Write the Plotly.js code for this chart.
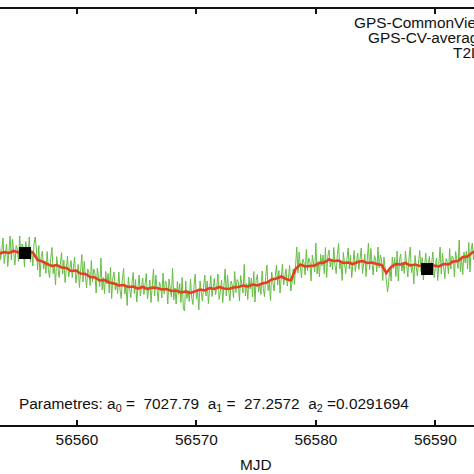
<!DOCTYPE html>
<html>
<head>
<meta charset="utf-8">
<script src="https://cdn.plot.ly/plotly-3.0.1.min.js"></script>
<style>
  html, body { margin: 0; padding: 0; overflow: hidden; background: #fff; }
  #chart { width: 474px; height: 474px; }
</style>
</head>
<body>
<div id="chart"></div>
<script>
// GPS common-view time transfer vs. T2L2, MJD 56553.5 onward
// Raw common-view samples, one every 0.1 day (one row per day)
const cvStartMjd = 56553.5;
const cvStepDays = 0.1;
const cvRaw = [
  18.2, 16.55, 17.4, 18.7, 16.15, 17.0, 18.1, 15.85, 17.8, 18.9,
  16.5, 18.6, 17.15, 16.0, 17.95, 17.6, 16.35, 18.9, 16.8, 18.1,
  17.75, 15.8, 18.35, 17.25, 16.6, 18.8, 16.3, 17.5, 15.9, 18.15,
  18.8, 17.6, 15.5, 17.95, 14.8, 16.85, 17.4, 15.6, 16.35, 15.15,
  17.35, 15.55, 14.7, 16.65, 17.75, 15.15, 15.95, 14.0, 16.85, 15.75,
  14.75, 16.1, 17.25, 15.1, 16.5, 14.25, 16.15, 16.9, 14.8, 15.7,
  16.45, 14.75, 15.55, 16.8, 14.2, 15.0, 16.05, 13.75, 15.7, 17.05,
  14.3, 16.35, 14.85, 13.7, 15.6, 15.2, 13.95, 16.45, 14.3, 15.6,
  15.2, 13.2, 15.7, 14.55, 13.85, 16.7, 13.5, 14.75, 13.1, 15.35,
  14.1, 15.15, 13.2, 15.75, 12.65, 14.7, 15.3, 13.5, 14.25, 13.15,
  15.3, 13.5, 12.65, 14.6, 15.65, 13.1, 13.9, 11.95, 14.8, 13.7,
  12.75, 14.1, 15.25, 13.15, 14.55, 12.3, 14.25, 15.0, 12.9, 13.85,
  14.7, 13.05, 13.85, 15.15, 12.6, 13.4, 14.5, 12.25, 14.2, 15.6,
  12.9, 15.0, 13.55, 12.35, 14.3, 13.95, 12.7, 15.2, 13.1, 14.4,
  14.05, 12.1, 14.6, 13.5, 12.8, 15.65, 12.5, 13.7, 12.1, 14.35,
  13.05, 14.15, 12.25, 14.75, 11.7, 11.4, 14.4, 12.65, 13.45, 12.35,
  14.6, 12.8, 12.05, 14.0, 15.1, 12.6, 13.4, 11.5, 14.4, 13.3,
  12.4, 13.8, 15.0, 12.9, 14.4, 12.15, 14.1, 14.95, 12.85, 13.8,
  14.65, 13.0, 13.8, 15.1, 12.55, 13.35, 14.5, 12.25, 14.2, 15.6,
  12.9, 15.0, 13.55, 12.4, 14.4, 14.0, 12.75, 15.35, 13.25, 14.55,
  14.35, 12.4, 14.95, 13.85, 13.2, 16.05, 12.9, 14.15, 12.55, 14.8,
  13.6, 14.7, 12.8, 15.35, 12.3, 14.45, 15.05, 13.3, 14.15, 13.05,
  15.4, 13.65, 12.85, 14.85, 16.0, 13.45, 14.3, 12.45, 15.3, 14.25,
  13.4, 14.85, 16.0, 14.0, 15.45, 13.2, 15.25, 16.1, 14.0, 14.95,
  15.6, 13.9, 14.65, 15.95, 13.4, 14.2, 15.6, 14.05, 16.3, 17.8,
  15.2, 17.3, 15.85, 14.7, 16.6, 16.25, 15.0, 17.55, 15.4, 16.7,
  16.35, 14.4, 17.0, 15.95, 15.3, 18.2, 15.1, 16.35, 14.8, 17.05,
  15.9, 17.0, 15.15, 17.75, 14.75, 16.85, 17.5, 15.8, 16.6, 15.5,
  17.75, 15.95, 15.15, 17.05, 18.15, 15.6, 16.35, 14.45, 17.25, 16.15,
  15.15, 16.55, 17.7, 15.6, 17.0, 14.75, 16.7, 17.45, 15.35, 16.3,
  17.2, 15.55, 16.4, 17.7, 15.15, 16.0, 17.1, 14.85, 16.8, 18.2,
  15.55, 17.65, 16.2, 15.0, 16.95, 16.6, 15.3, 17.8, 15.7, 17.0,
  16.5, 14.45, 16.8, 15.5, 14.65, 13.3, 14.35, 15.8, 14.4, 16.8,
  15.65, 16.75, 14.85, 17.4, 14.4, 16.5, 17.1, 15.4, 16.25, 15.15,
  17.4, 15.6, 14.8, 16.7, 17.8, 15.25, 16.05, 14.1, 16.95, 15.85,
  14.9, 16.3, 17.45, 15.35, 16.75, 14.5, 16.45, 17.2, 15.1, 16.05,
  16.85, 15.2, 16.0, 17.3, 14.75, 15.55, 16.7, 14.45, 16.4, 17.8,
  15.1, 17.2, 15.8, 14.65, 16.65, 16.3, 15.1, 17.65, 15.6, 16.9,
  16.75, 14.8, 17.35, 16.3, 15.65, 18.5, 15.35, 16.65, 15.05, 17.3,
  16.2, 17.4, 15.6, 18.25, 15.3, 17.5, 18.2, 16.55, 17.4, 16.35
];

// Averaged common-view series, one every 0.4 day
const avgStartMjd = 56553.5;
const avgStepDays = 0.4;
const cvAverage = [
  17.15, 17.3, 17.2, 17.4, 17.25, 17.2, 17.3, 17.25, 16.5, 16.35,
  16.1, 15.9, 16.0, 15.75, 15.7, 15.4, 15.45, 15.15, 15.1, 14.8,
  14.75, 14.45, 14.5, 14.25, 14.15, 13.95, 14.0, 13.8, 13.85, 13.65,
  13.8, 13.6, 13.75, 13.7, 13.55, 13.6, 13.4, 13.45, 13.25, 13.35,
  13.2, 13.35, 13.55, 13.45, 13.7, 13.6, 13.8, 13.65, 13.6, 13.75,
  13.8, 13.95, 13.85, 14.05, 13.95, 14.15, 14.25, 14.55, 14.65, 14.85,
  14.6, 14.45, 15.6, 16.05, 15.85, 15.9, 15.95, 16.2, 16.25, 16.55,
  16.4, 16.45, 16.2, 16.25, 16.1, 16.3, 16.4, 16.2, 16.25, 16.1,
  16.0, 15.2, 15.8, 16.1, 16.05, 16.2, 15.95, 16.05, 15.9, 16.0,
  15.8, 15.95, 15.85, 16.1, 16.05, 16.35, 16.4, 16.8, 16.85, 17.25,
  17.5
];

// T2L2 comparison points
const t2l2Mjd = [56555.64, 56589.31];
const t2l2Value = [17.2, 15.6];

// Axis ticks
const mjdTicks = [56560, 56570, 56580, 56590];
const mjdTickLabels = ['56560', '56570', '56580', '56590'];

// Legend entries and fit parameters
const seriesNames = ['GPS-CommonView', 'GPS-CV-average', 'T2L2'];
const fitText = 'Parametres: a<sub>0</sub> =\u00a0\u00a07027.79\u00a0\u00a0a<sub>1</sub> =\u00a0\u00a027.2572\u00a0\u00a0a<sub>2</sub> =0.0291694';
const xTitle = 'MJD';

const FONT = 'Liberation Sans, Arial, Helvetica, sans-serif';

const traces = [
  {
    type: 'scatter', mode: 'lines', name: seriesNames[0],
    x0: cvStartMjd, dx: cvStepDays, y: cvRaw,
    line: { color: '#68bd45', width: 1 }
  },
  {
    type: 'scatter', mode: 'lines', name: seriesNames[1],
    x0: avgStartMjd, dx: avgStepDays, y: cvAverage,
    line: { color: '#e2401e', width: 2.6 }
  },
  {
    type: 'scatter', mode: 'markers', name: seriesNames[2],
    x: t2l2Mjd, y: t2l2Value,
    marker: { symbol: 'square', size: 12, color: '#000' }
  }
];

const textStyle = { family: FONT, size: 15.4, color: '#111' };

const layout = {
  width: 474, height: 474,
  margin: { l: 0, r: 0, t: 9, b: 49, pad: 0 },
  paper_bgcolor: '#fff', plot_bgcolor: '#fff',
  showlegend: false,
  font: { family: FONT, size: 15, color: '#111' },
  xaxis: {
    range: [56553.55, 56593.24],
    tickvals: mjdTicks, ticktext: mjdTickLabels,
    ticks: 'inside', ticklen: 5, tickwidth: 2, tickcolor: '#111',
    showline: true, linewidth: 2, linecolor: '#111', mirror: 'ticks',
    showgrid: false, zeroline: false,
    tickfont: { family: FONT, size: 15.4, color: '#111' }
  },
  yaxis: {
    range: [0, 41.6],
    visible: false, showgrid: false, zeroline: false
  },
  annotations: [
    { text: seriesNames[0], xref: 'paper', yref: 'paper', x: 352 / 474, y: (425 - 23) / 416,
      xanchor: 'left', yanchor: 'middle', showarrow: false, font: textStyle },
    { text: seriesNames[1], xref: 'paper', yref: 'paper', x: 365.5 / 474, y: (425 - 38) / 416,
      xanchor: 'left', yanchor: 'middle', showarrow: false, font: textStyle },
    { text: seriesNames[2], xref: 'paper', yref: 'paper', x: 450.5 / 474, y: (425 - 53) / 416,
      xanchor: 'left', yanchor: 'middle', showarrow: false, font: textStyle },
    { text: fitText, xref: 'paper', yref: 'paper', x: 17 / 474, y: (425 - 404) / 416,
      xanchor: 'left', yanchor: 'middle', showarrow: false, font: textStyle },
    { text: xTitle, xref: 'paper', yref: 'paper', x: 256 / 474, y: (425 - 464) / 416,
      xanchor: 'center', yanchor: 'middle', showarrow: false, font: textStyle }
  ]
};

Plotly.newPlot('chart', traces, layout, { staticPlot: true, displayModeBar: false });
</script>
</body>
</html>
